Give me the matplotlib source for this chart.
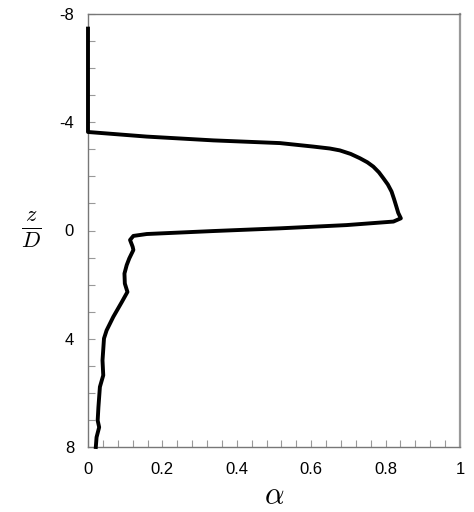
import matplotlib.pyplot as plt
from matplotlib.ticker import MultipleLocator

plt.rcParams['font.family'] = ['Liberation Sans', 'DejaVu Sans']
plt.rcParams['mathtext.fontset'] = 'cm'
plt.rcParams['axes.unicode_minus'] = False

# volume fraction profile
alpha = [0.0, 0.0, 0.158, 0.337, 0.516, 0.606, 0.650, 0.677, 0.706, 0.731,
         0.751, 0.767, 0.782, 0.794, 0.806, 0.816, 0.823, 0.829, 0.834, 0.841,
         0.821, 0.695, 0.516, 0.337, 0.158, 0.122, 0.113,
         0.120, 0.122, 0.111, 0.104, 0.098, 0.099, 0.106, 0.091, 0.068, 0.050,
         0.043, 0.039, 0.041, 0.032, 0.028, 0.026, 0.030, 0.023, 0.021]
z_D = [-7.46, -3.64, -3.47, -3.33, -3.23, -3.10, -3.03, -2.96, -2.83, -2.67,
       -2.52, -2.36, -2.15, -1.93, -1.70, -1.44, -1.15, -0.88, -0.65, -0.45,
       -0.33, -0.20, -0.08, 0.02, 0.13, 0.20, 0.35,
       0.60, 0.72, 1.03, 1.28, 1.59, 1.96, 2.27, 2.64, 3.19, 3.69,
       3.99, 4.80, 5.35, 5.78, 6.53, 7.02, 7.27, 7.64, 8.0]

fig = plt.figure(figsize=(4.74, 5.12), dpi=100)
ax = fig.add_axes([88/474, 1-447/512, 372/474, 433/512])

ax.plot(alpha, z_D, color='black', lw=2.8, solid_joinstyle='round', clip_on=False, zorder=5)

ax.set_xlim(0, 1)
ax.set_ylim(8, -8)
ax.set_xticks([0, 0.2, 0.4, 0.6, 0.8, 1])
ax.set_xticklabels(['0', '0.2', '0.4', '0.6', '0.8', '1'])
ax.set_yticks([-8, -4, 0, 4, 8])
ax.xaxis.set_minor_locator(MultipleLocator(0.04))
ax.yaxis.set_minor_locator(MultipleLocator(1))
ax.tick_params(which='both', direction='in', length=5, color='#999999',
               width=0.8, labelsize=12, pad=11)
ax.tick_params(axis='y', pad=10)

for s in ax.spines.values():
    s.set_color('#777777')
    s.set_linewidth(1.0)
ax.spines['right'].set_color('#999999')
ax.spines['right'].set_linewidth(1.6)

ax.set_xlabel(r'$\alpha$', fontsize=22, labelpad=3)
ax.set_ylabel(r'$\frac{z}{D}$', fontsize=23, rotation=0, labelpad=20, va='center')

fig.savefig('out.png', dpi=100)
